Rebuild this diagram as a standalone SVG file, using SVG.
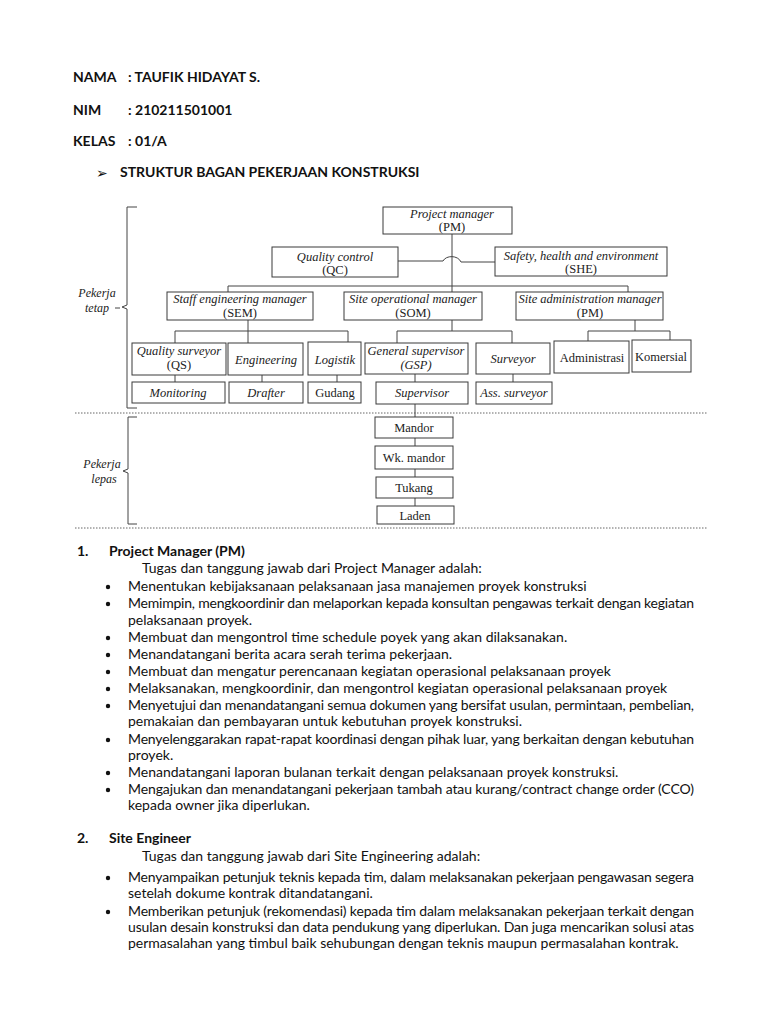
<svg xmlns="http://www.w3.org/2000/svg" width="768" height="1024" viewBox="0 0 768 1024">
<style>
.b{fill:#fff;stroke:#3a3a3a;stroke-width:1}
.c{fill:none;stroke:#444;stroke-width:1}
.dot{fill:none;stroke:#666;stroke-width:1;stroke-dasharray:1.5 1.5}
.i{font-family:"Liberation Serif",serif;font-size:12.5px;font-style:italic;fill:#222;text-anchor:middle}
.r{font-family:"Liberation Serif",serif;font-size:12.5px;fill:#222;text-anchor:middle}
.p{font-family:"Liberation Serif",serif;font-size:12px;font-style:italic;fill:#222;text-anchor:middle}
.h{font-family:Lato,"Liberation Sans",sans-serif;font-size:14px;font-weight:bold;fill:#111}
.d{font-family:Lato,"Liberation Sans",sans-serif;font-size:14px;fill:#111}
.bul{fill:#111}
</style>
<rect width="768" height="1024" fill="#fff"/>

<g id="header">
<text class="h" x="73" y="82">NAMA</text><text class="h" x="128" y="82">: TAUFIK HIDAYAT S.</text>
<text class="h" x="73" y="115">NIM</text><text class="h" x="128" y="115">: 210211501001</text>
<text class="h" x="73" y="146">KELAS</text><text class="h" x="128" y="146">: 01/A</text>
<text x="96" y="178" style="font-family:'DejaVu Sans',sans-serif;font-size:14px;fill:#111">➢</text>
<text class="h" x="120" y="177">STRUKTUR BAGAN PEKERJAAN KONSTRUKSI</text>
</g>

<g id="brackets">
<path class="c" d="M137,207 H127 V305 L122,307 L127,309 V408 H137"/>
<path class="c" d="M115,308 H120"/>
<text class="p" x="97" y="297">Pekerja</text>
<text class="p" x="97" y="312">tetap</text>
<path class="c" d="M137,417 H128 V469 L123,471 L128,473 V524 H137"/>
<text class="p" x="102" y="468">Pekerja</text>
<text class="p" x="104" y="483">lepas</text>
<path class="dot" d="M75,413 H708"/>
<path class="dot" d="M75,528 H708"/>
</g>

<g id="connectors">
<path class="c" d="M452,234 V292"/>
<path class="c" d="M398,261 H443 C446,255 458,255 461,262 H495"/>
<path class="c" d="M228,292 V286 H628 V292"/>
<path class="c" d="M248,320 V343"/>
<path class="c" d="M175,343 V331 H348 V342"/>
<path class="c" d="M452,320 V331"/>
<path class="c" d="M397,343 V331 H512 V343"/>
<path class="c" d="M635,320 V331"/>
<path class="c" d="M588,341 V331 H670 V340"/>
<path class="c" d="M175,375 V382"/>
<path class="c" d="M262,375 V382"/>
<path class="c" d="M337,375 V382"/>
<path class="c" d="M415,374 V382"/>
<path class="c" d="M513,374 V382"/>
<path class="c" d="M415,404 V417"/>
<path class="c" d="M415,438 V446"/>
<path class="c" d="M415,469 V477"/>
<path class="c" d="M415,498 V506"/>
</g>

<g id="pm"><rect class="b" x="383" y="207" width="129" height="27"/><text class="i" x="452" y="218">Project manager</text><text class="r" x="452" y="231">(PM)</text></g>
<g id="qc"><rect class="b" x="272" y="247" width="126" height="30"/><text class="i" x="335" y="261">Quality control</text><text class="r" x="335" y="274">(QC)</text></g>
<g id="she"><rect class="b" x="495" y="247" width="172" height="29"/><text class="i" x="581" y="260">Safety, health and environment</text><text class="r" x="581" y="273">(SHE)</text></g>
<g id="sem"><rect class="b" x="167" y="292" width="146" height="28"/><text class="i" x="240" y="303">Staff engineering manager</text><text class="r" x="240" y="317">(SEM)</text></g>
<g id="som"><rect class="b" x="344" y="292" width="138" height="28"/><text class="i" x="413" y="303">Site operational manager</text><text class="r" x="413" y="317">(SOM)</text></g>
<g id="sam"><rect class="b" x="516" y="292" width="147" height="28"/><text class="i" x="590" y="303">Site administration manager</text><text class="r" x="590" y="317">(PM)</text></g>
<g id="qs"><rect class="b" x="132" y="343" width="94" height="32"/><text class="i" x="179" y="355">Quality surveyor</text><text class="r" x="179" y="369">(QS)</text></g>
<g id="eng"><rect class="b" x="228" y="343" width="75" height="32"/><text class="i" x="266" y="364">Engineering</text></g>
<g id="log"><rect class="b" x="308" y="342" width="53" height="33"/><text class="i" x="335" y="364">Logistik</text></g>
<g id="gsp"><rect class="b" x="365" y="343" width="103" height="31"/><text class="i" x="416" y="355">General supervisor</text><text class="i" x="416" y="369">(GSP)</text></g>
<g id="surveyor"><rect class="b" x="476" y="343" width="74" height="31"/><text class="i" x="513" y="363">Surveyor</text></g>
<g id="adm"><rect class="b" x="554" y="341" width="75" height="32"/><text class="r" x="592" y="362">Administrasi</text></g>
<g id="kom"><rect class="b" x="632" y="340" width="59" height="32"/><text class="r" x="661" y="361">Komersial</text></g>
<g id="mon"><rect class="b" x="132" y="382" width="93" height="21"/><text class="i" x="178" y="397">Monitoring</text></g>
<g id="dra"><rect class="b" x="229" y="382" width="74" height="21"/><text class="i" x="266" y="397">Drafter</text></g>
<g id="gud"><rect class="b" x="308" y="382" width="53" height="21"/><text class="r" x="335" y="397">Gudang</text></g>
<g id="sup"><rect class="b" x="376" y="382" width="92" height="22"/><text class="i" x="422" y="397">Supervisor</text></g>
<g id="ass"><rect class="b" x="476" y="382" width="76" height="22"/><text class="i" x="514" y="397">Ass. surveyor</text></g>
<g id="mandor"><rect class="b" x="375" y="417" width="78" height="21"/><text class="r" x="414" y="432">Mandor</text></g>
<g id="wk"><rect class="b" x="375" y="446" width="78" height="23"/><text class="r" x="414" y="462">Wk. mandor</text></g>
<g id="tukang"><rect class="b" x="376" y="477" width="77" height="21"/><text class="r" x="414" y="492">Tukang</text></g>
<g id="laden"><rect class="b" x="377" y="506" width="77" height="18"/><text class="r" x="415" y="520">Laden</text></g>

<g id="body">
<text class="h" x="77" y="556">1.</text><text class="h" x="109" y="556">Project Manager (PM)</text>
<text class="d" x="142" y="573">Tugas dan tanggung jawab dari Project Manager adalah:</text>
<circle class="bul" cx="108" cy="587" r="2.2"/><text class="d" x="128" y="591">Menentukan kebijaksanaan pelaksanaan jasa manajemen proyek konstruksi</text>
<circle class="bul" cx="108" cy="604" r="2.2"/><text class="d" x="128" y="608" textLength="566" lengthAdjust="spacing">Memimpin, mengkoordinir dan melaporkan kepada konsultan pengawas terkait dengan kegiatan</text>
<text class="d" x="128" y="625">pelaksanaan proyek.</text>
<circle class="bul" cx="108" cy="638" r="2.2"/><text class="d" x="128" y="642">Membuat dan mengontrol time schedule poyek yang akan dilaksanakan.</text>
<circle class="bul" cx="108" cy="655" r="2.2"/><text class="d" x="128" y="659">Menandatangani berita acara serah terima pekerjaan.</text>
<circle class="bul" cx="108" cy="672" r="2.2"/><text class="d" x="128" y="676">Membuat dan mengatur perencanaan kegiatan operasional pelaksanaan proyek</text>
<circle class="bul" cx="108" cy="689" r="2.2"/><text class="d" x="128" y="693">Melaksanakan, mengkoordinir, dan mengontrol kegiatan operasional pelaksanaan proyek</text>
<circle class="bul" cx="108" cy="706" r="2.2"/><text class="d" x="128" y="710" textLength="566" lengthAdjust="spacing">Menyetujui dan menandatangani semua dokumen yang bersifat usulan, permintaan, pembelian,</text>
<text class="d" x="128" y="726">pemakaian dan pembayaran untuk kebutuhan proyek konstruksi.</text>
<circle class="bul" cx="108" cy="740" r="2.2"/><text class="d" x="128" y="744" textLength="566" lengthAdjust="spacing">Menyelenggarakan rapat-rapat koordinasi dengan pihak luar, yang berkaitan dengan kebutuhan</text>
<text class="d" x="128" y="760">proyek.</text>
<circle class="bul" cx="108" cy="773" r="2.2"/><text class="d" x="128" y="777">Menandatangani laporan bulanan terkait dengan pelaksanaan proyek konstruksi.</text>
<circle class="bul" cx="108" cy="790" r="2.2"/><text class="d" x="128" y="794" textLength="566" lengthAdjust="spacing">Mengajukan dan menandatangani pekerjaan tambah atau kurang/contract change order (CCO)</text>
<text class="d" x="128" y="810">kepada owner jika diperlukan.</text>

<text class="h" x="77" y="843">2.</text><text class="h" x="109" y="843">Site Engineer</text>
<text class="d" x="142" y="861">Tugas dan tanggung jawab dari Site Engineering adalah:</text>
<circle class="bul" cx="108" cy="878" r="2.2"/><text class="d" x="128" y="882" textLength="566" lengthAdjust="spacing">Menyampaikan petunjuk teknis kepada tim, dalam melaksanakan pekerjaan pengawasan segera</text>
<text class="d" x="128" y="898">setelah dokume kontrak ditandatangani.</text>
<circle class="bul" cx="108" cy="912" r="2.2"/><text class="d" x="128" y="916" textLength="566" lengthAdjust="spacing">Memberikan petunjuk (rekomendasi) kepada tim dalam melaksanakan pekerjaan terkait dengan</text>
<text class="d" x="128" y="932" textLength="566" lengthAdjust="spacing">usulan desain konstruksi dan data pendukung yang diperlukan. Dan juga mencarikan solusi atas</text>
<text class="d" x="128" y="948">permasalahan yang timbul baik sehubungan dengan teknis maupun permasalahan kontrak.</text>
</g>
</svg>
